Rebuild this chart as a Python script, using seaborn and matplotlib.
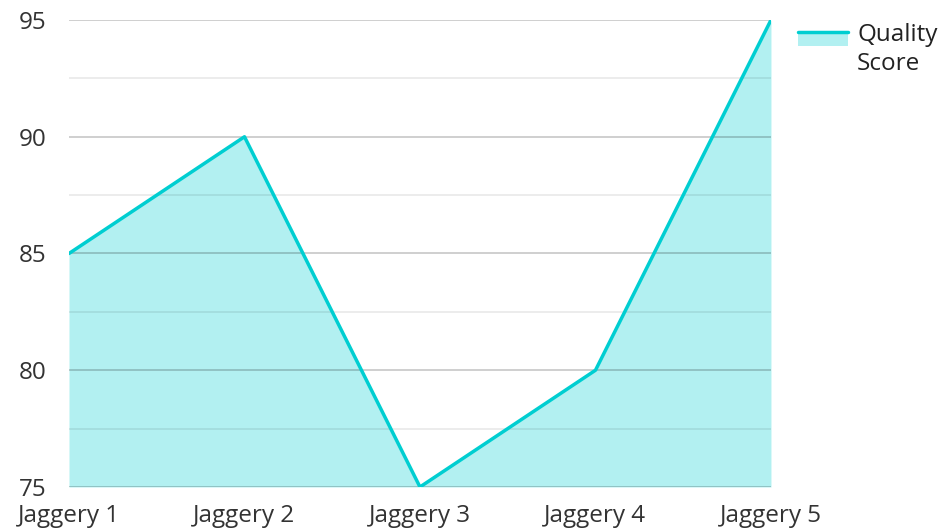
import matplotlib
matplotlib.use("Agg")
import matplotlib.pyplot as plt
import seaborn as sns
import pandas as pd
from matplotlib.patches import Rectangle
from matplotlib.lines import Line2D
from matplotlib.legend_handler import HandlerBase
from matplotlib.ticker import MultipleLocator

categories = ["Jaggery 1", "Jaggery 2", "Jaggery 3", "Jaggery 4", "Jaggery 5"]
quality_score = [85, 90, 75, 80, 95]

LINE = "#00CED1"


class AreaHandler(HandlerBase):
    # filled box with the line along its top edge, lined up with the first text line
    def create_artists(self, legend, orig, xd, yd, width, height, fontsize, trans):
        y0 = yd + 10.5
        top = y0 + height
        rect = Rectangle((xd, y0), width, height,
                         facecolor=LINE, alpha=0.3, edgecolor="none", transform=trans)
        line = Line2D([xd, xd + width], [top, top], color=LINE, linewidth=2.5, transform=trans)
        return [rect, line]


sns.set_style("white")
plt.rcParams["font.family"] = ["Open Sans", "DejaVu Sans"]

df = pd.DataFrame({"x": range(len(categories)), "score": quality_score})

fig = plt.figure(figsize=(9.41, 5.31), dpi=100)
ax = fig.add_axes([0.0733, 0.0829, 0.746, 0.8794])

ax.fill_between(df["x"], df["score"], 75, color=LINE, alpha=0.3, linewidth=0, zorder=1)
sns.lineplot(data=df, x="x", y="score", ax=ax, color=LINE, linewidth=2.5, zorder=3)

ax.set_xlim(0, len(categories) - 1)
ax.set_ylim(75, 95)
ax.set_xticks(range(len(categories)))
ax.set_xticklabels(categories)
ax.yaxis.set_major_locator(MultipleLocator(5))
ax.yaxis.set_minor_locator(MultipleLocator(2.5))
ax.grid(axis="y", which="major", color="black", alpha=0.22, linewidth=1.2, zorder=2)
ax.grid(axis="y", which="minor", color="black", alpha=0.09, linewidth=1.2, zorder=2)
ax.set_axisbelow(False)
for s in ax.spines.values():
    s.set_visible(False)
ax.tick_params(axis="both", which="both", length=0, labelsize=17.5, colors="#333333")
ax.tick_params(axis="y", pad=16)
ax.tick_params(axis="x", pad=12)
ax.set_xlabel("")
ax.set_ylabel("")

leg = ax.legend([object()], ["Quality\nScore"], handler_map={object: AreaHandler()},
                loc="upper left", bbox_to_anchor=(1.025, 1.015),
                frameon=False, fontsize=17.5, handlelength=2.05, handleheight=0.5,
                handletextpad=0.37, labelcolor="#222222", borderaxespad=0)
leg.get_texts()[0].set_linespacing(1.3)

fig.savefig("out.png", dpi=100)
